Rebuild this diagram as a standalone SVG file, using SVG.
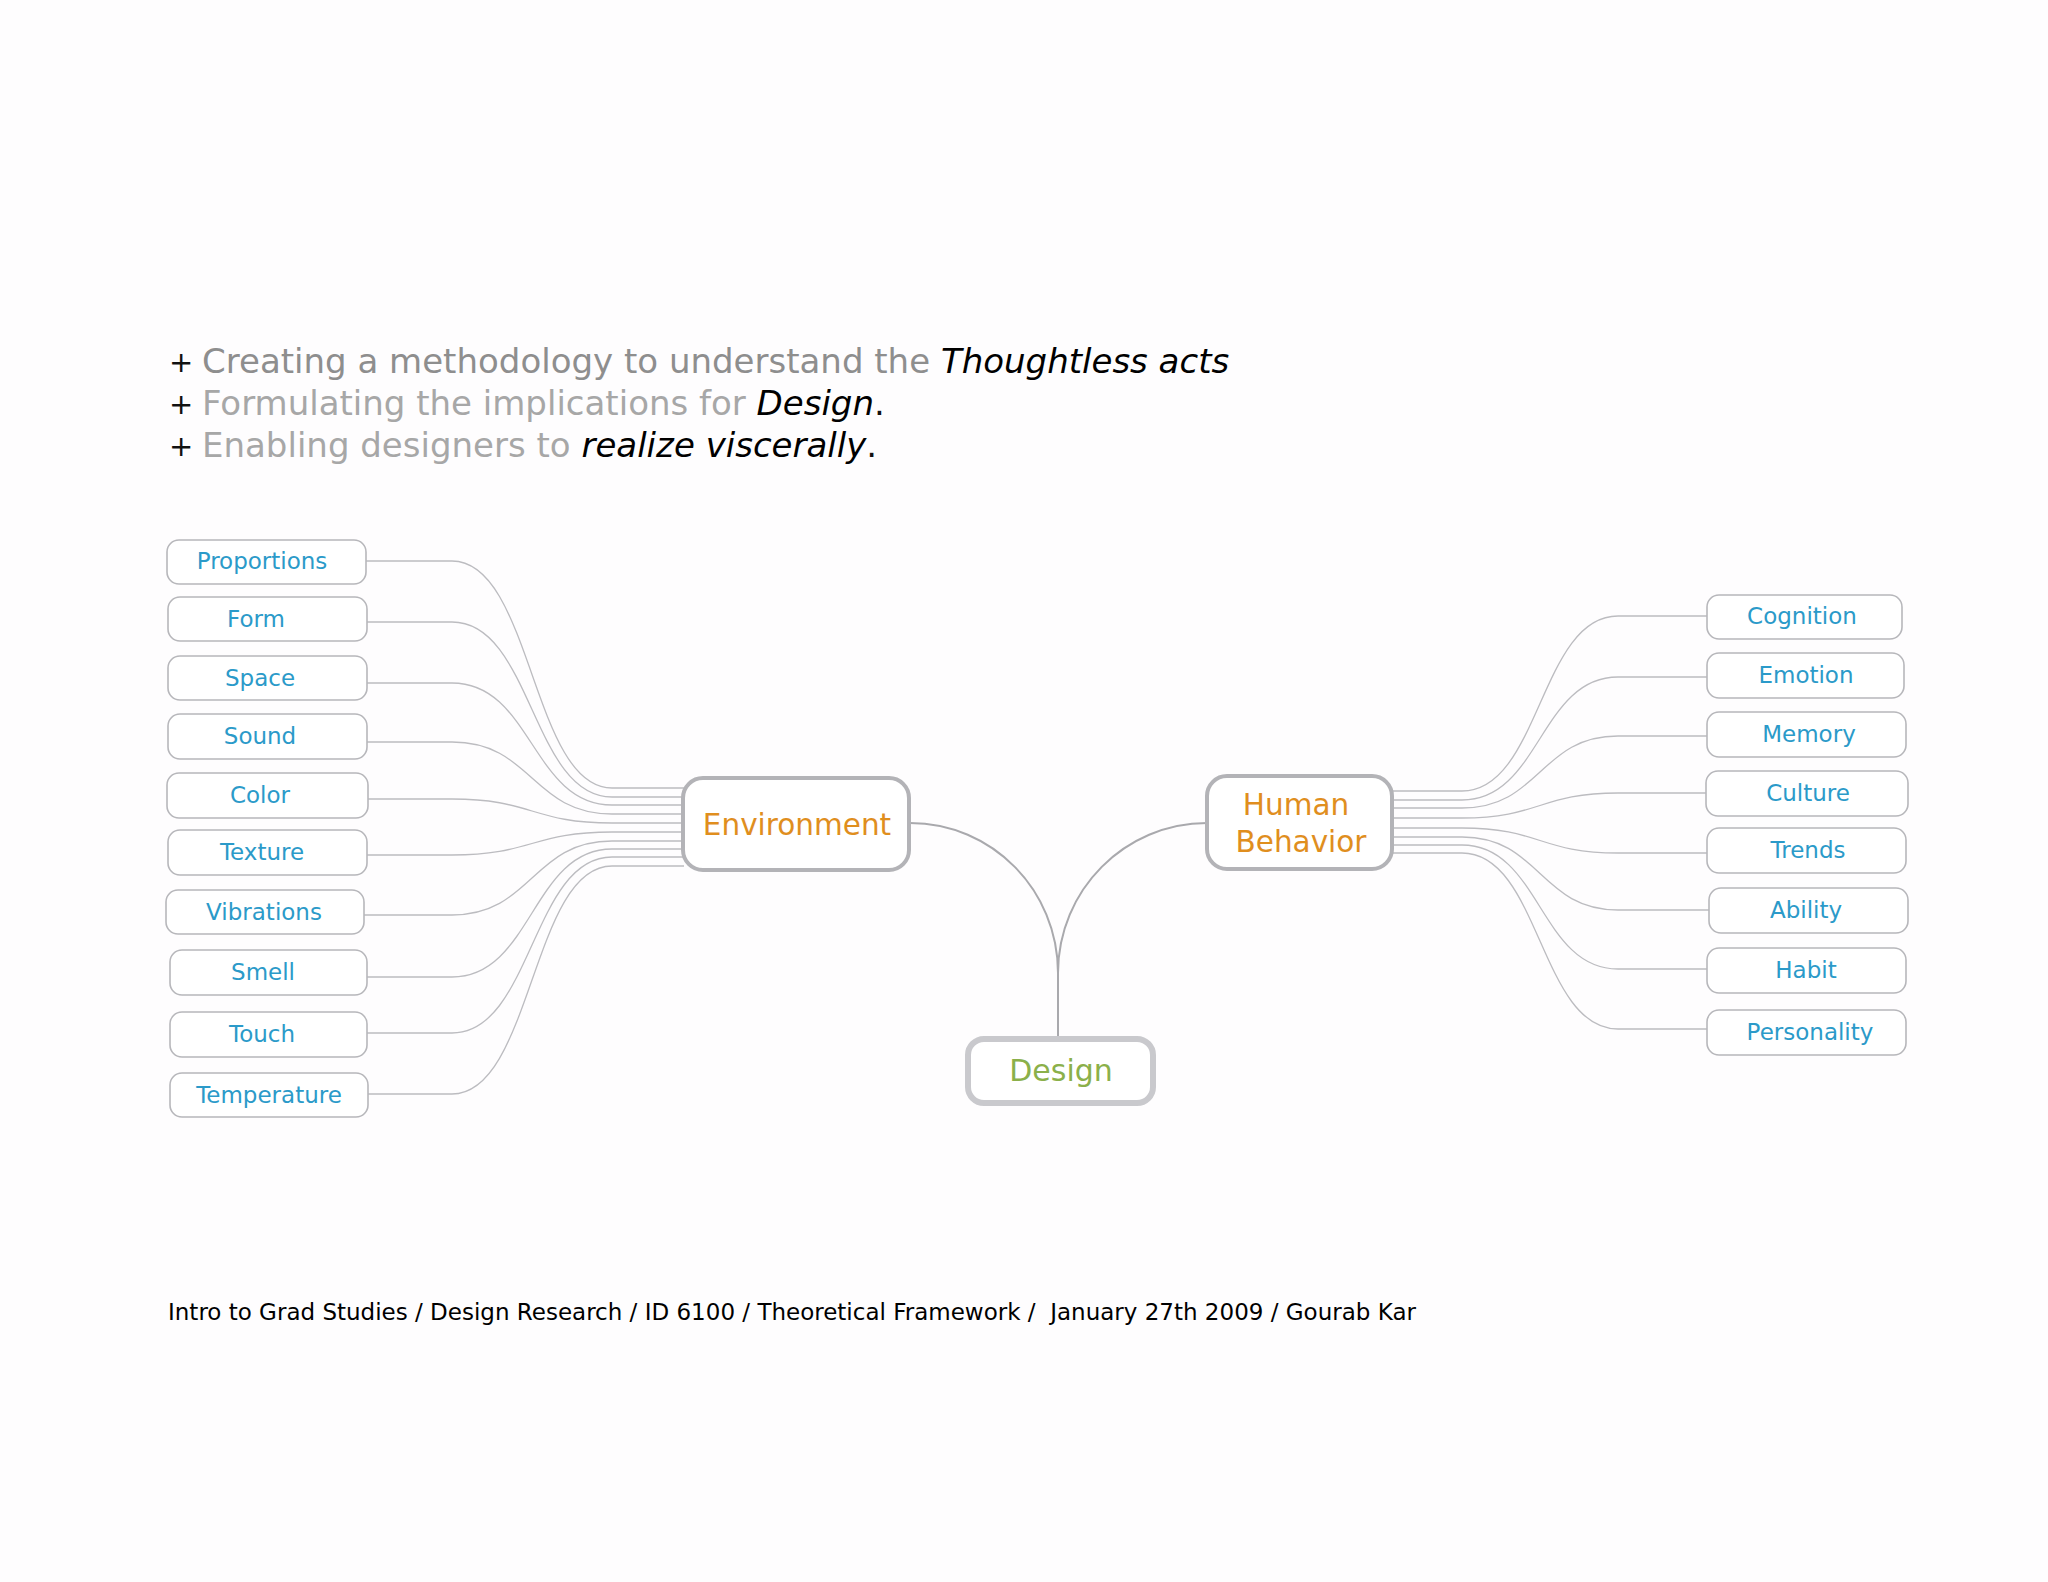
<svg xmlns="http://www.w3.org/2000/svg" width="2048" height="1582" viewBox="0 0 2048 1582">
<style>
.bg{fill:#fefdfe}
.leaf{fill:#ffffff;stroke:#b7b7bb;stroke-width:1.6}
.main{fill:#ffffff;stroke:#b3b3b7;stroke-width:4}
.root{fill:#ffffff;stroke:#c9c9cd;stroke-width:6}
.lt{font-family:"DejaVu Sans","Liberation Sans",sans-serif;font-size:23px;fill:#2b9ac9;text-anchor:middle}
.mt{font-family:"DejaVu Sans","Liberation Sans",sans-serif;font-size:29.5px;fill:#e08e1e;text-anchor:middle}
.rt{font-family:"DejaVu Sans","Liberation Sans",sans-serif;font-size:30px;fill:#8bb04a;text-anchor:middle}
.hd{font-family:"DejaVu Sans","Liberation Sans",sans-serif;font-size:34px}
.pl{font-family:"DejaVu Sans","Liberation Sans",sans-serif;font-size:29px;fill:#111111}
.plus{fill:#111111}
.g1{fill:#8e8e8e}
.g2{fill:#a7a7a7}
.it{fill:#000000;font-style:italic}
.ft{font-family:"DejaVu Sans","Liberation Sans",sans-serif;font-size:23px;fill:#000000}
.c{fill:none;stroke:#bcbcc0;stroke-width:1.3}
.cm{fill:none;stroke:#a9a9ad;stroke-width:2}
</style>
<rect class="bg" x="0" y="0" width="2048" height="1582"/>

<g id="heading">
<text class="pl" x="169" y="372">+</text>
<text class="hd" x="202" y="373"><tspan class="g1">Creating a methodology to understand the </tspan><tspan class="it">Thoughtless acts</tspan></text>
<text class="pl" x="169" y="414">+</text>
<text class="hd" x="202" y="415"><tspan class="g2">Formulating the implications for </tspan><tspan class="it">Design</tspan><tspan class="plus">.</tspan></text>
<text class="pl" x="169" y="456">+</text>
<text class="hd" x="202" y="457"><tspan class="g2">Enabling designers to </tspan><tspan class="it">realize viscerally</tspan><tspan class="plus">.</tspan></text>
</g>

<g id="connectors">
<path class="cm" d="M910 823 C992 823 1058 890 1058 973 L1058 1037"/>
<path class="cm" d="M1207 823 C1125 823 1058 890 1058 973"/>
<path class="c" d="M366 561 H452 C532 561 532 788 612 788 H684"/>
<path class="c" d="M367 622 H452 C532 622 532 797 612 797 H684"/>
<path class="c" d="M367 683 H452 C532 683 532 805 612 805 H684"/>
<path class="c" d="M367 742 H452 C532 742 532 814 612 814 H684"/>
<path class="c" d="M368 799 H452 C532 799 532 823 612 823 H684"/>
<path class="c" d="M367 855 H452 C532 855 532 832 612 832 H684"/>
<path class="c" d="M364 915 H452 C532 915 532 841 612 841 H684"/>
<path class="c" d="M367 977 H452 C532 977 532 849 612 849 H684"/>
<path class="c" d="M367 1033 H452 C532 1033 532 857 612 857 H684"/>
<path class="c" d="M368 1094 H452 C532 1094 532 866 612 866 H684"/>
<path class="c" d="M1392 791 H1462 C1540 791 1540 616 1618 616 H1707"/>
<path class="c" d="M1392 800 H1462 C1540 800 1540 677 1618 677 H1707"/>
<path class="c" d="M1392 808 H1462 C1540 808 1540 736 1618 736 H1707"/>
<path class="c" d="M1392 818 H1462 C1540 818 1540 793 1618 793 H1706"/>
<path class="c" d="M1392 828 H1462 C1540 828 1540 853 1618 853 H1707"/>
<path class="c" d="M1392 837 H1462 C1540 837 1540 910 1618 910 H1709"/>
<path class="c" d="M1392 845 H1462 C1540 845 1540 969 1618 969 H1707"/>
<path class="c" d="M1392 853 H1462 C1540 853 1540 1029 1618 1029 H1707"/>
</g>

<g id="environment"><rect class="main" x="683" y="778" width="226" height="92" rx="20"/><text class="mt" x="797" y="835">Environment</text></g>
<g id="human-behavior"><rect class="main" x="1207" y="776" width="185" height="93" rx="20"/><text class="mt" x="1296" y="815">Human</text><text class="mt" x="1301" y="852">Behavior</text></g>
<g id="design"><rect class="root" x="968" y="1039" width="185" height="64" rx="16"/><text class="rt" x="1061" y="1081">Design</text></g>

<g id="proportions"><rect class="leaf" x="167" y="540" width="199" height="44" rx="12"/><text class="lt" x="262" y="569">Proportions</text></g>
<g id="form"><rect class="leaf" x="168" y="597" width="199" height="44" rx="12"/><text class="lt" x="256" y="627">Form</text></g>
<g id="space"><rect class="leaf" x="168" y="656" width="199" height="44" rx="12"/><text class="lt" x="260" y="686">Space</text></g>
<g id="sound"><rect class="leaf" x="168" y="714" width="199" height="45" rx="12"/><text class="lt" x="260" y="744">Sound</text></g>
<g id="color"><rect class="leaf" x="167" y="773" width="201" height="45" rx="12"/><text class="lt" x="260" y="803">Color</text></g>
<g id="texture"><rect class="leaf" x="168" y="830" width="199" height="45" rx="12"/><text class="lt" x="262" y="860">Texture</text></g>
<g id="vibrations"><rect class="leaf" x="166" y="890" width="198" height="44" rx="12"/><text class="lt" x="264" y="920">Vibrations</text></g>
<g id="smell"><rect class="leaf" x="170" y="950" width="197" height="45" rx="12"/><text class="lt" x="263" y="980">Smell</text></g>
<g id="touch"><rect class="leaf" x="170" y="1012" width="197" height="45" rx="12"/><text class="lt" x="262" y="1042">Touch</text></g>
<g id="temperature"><rect class="leaf" x="170" y="1073" width="198" height="44" rx="12"/><text class="lt" x="269" y="1103">Temperature</text></g>

<g id="cognition"><rect class="leaf" x="1707" y="595" width="195" height="44" rx="12"/><text class="lt" x="1802" y="624">Cognition</text></g>
<g id="emotion"><rect class="leaf" x="1707" y="653" width="197" height="45" rx="12"/><text class="lt" x="1806" y="683">Emotion</text></g>
<g id="memory"><rect class="leaf" x="1707" y="712" width="199" height="45" rx="12"/><text class="lt" x="1809" y="742">Memory</text></g>
<g id="culture"><rect class="leaf" x="1706" y="771" width="202" height="45" rx="12"/><text class="lt" x="1808" y="801">Culture</text></g>
<g id="trends"><rect class="leaf" x="1707" y="828" width="199" height="45" rx="12"/><text class="lt" x="1808" y="858">Trends</text></g>
<g id="ability"><rect class="leaf" x="1709" y="888" width="199" height="45" rx="12"/><text class="lt" x="1806" y="918">Ability</text></g>
<g id="habit"><rect class="leaf" x="1707" y="948" width="199" height="45" rx="12"/><text class="lt" x="1806" y="978">Habit</text></g>
<g id="personality"><rect class="leaf" x="1707" y="1010" width="199" height="45" rx="12"/><text class="lt" x="1810" y="1040">Personality</text></g>

<g id="footer"><text class="ft" x="168" y="1320" xml:space="preserve">Intro to Grad Studies / Design Research / ID 6100 / Theoretical Framework /  January 27th 2009 / Gourab Kar</text></g>
</svg>
